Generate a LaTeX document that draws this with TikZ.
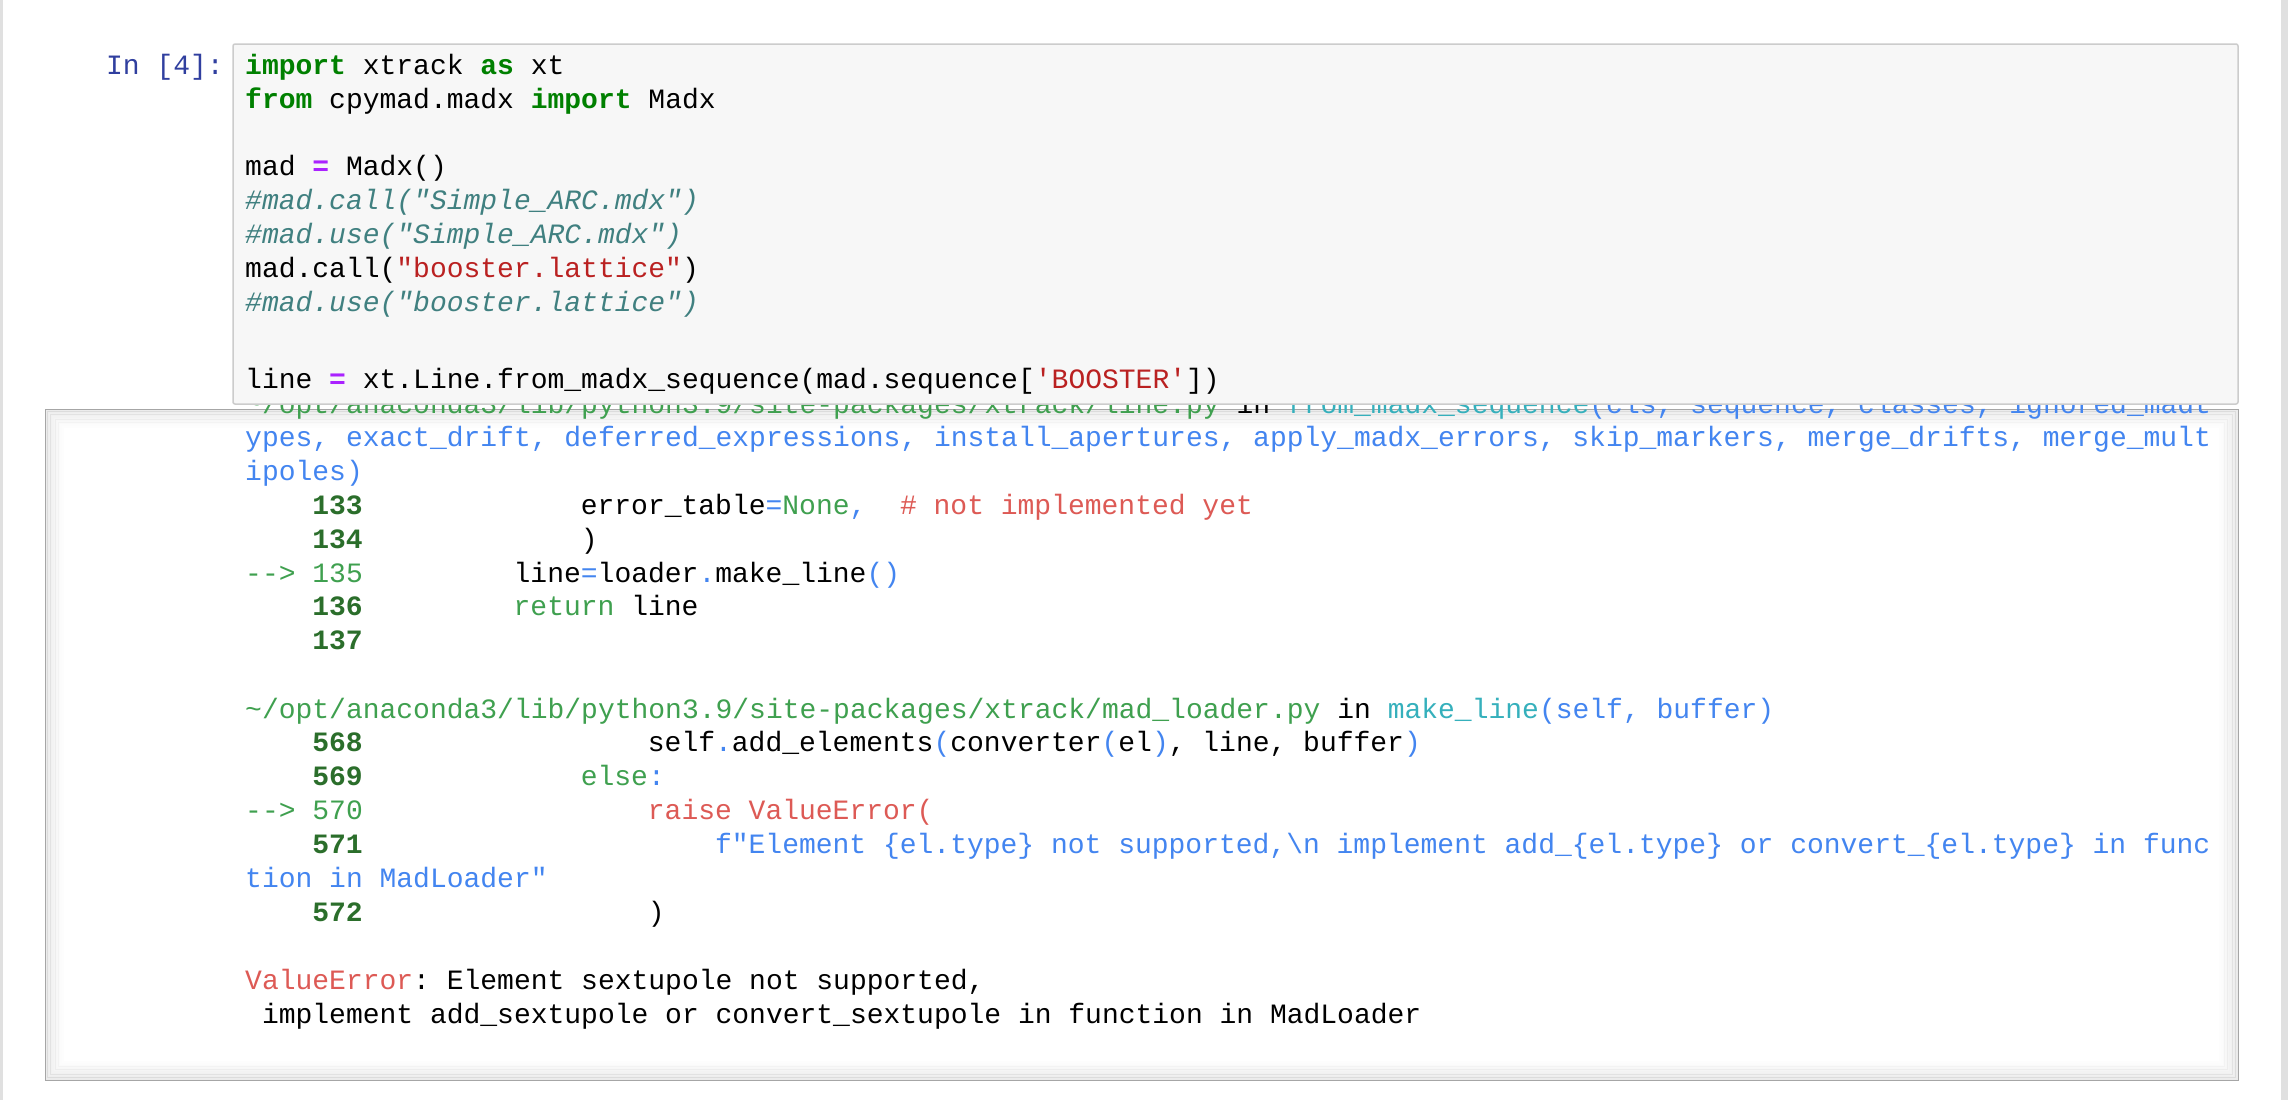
\documentclass[tikz,border=0pt]{standalone}
\usepackage{fontspec}
\setmonofont{Liberation Mono}
\usetikzlibrary{calc}
\definecolor{kw}{HTML}{008000}
\definecolor{op}{HTML}{AA22FF}
\definecolor{cm}{HTML}{408080}
\definecolor{st}{HTML}{BA2121}
\definecolor{prompt}{HTML}{303F9F}
\definecolor{ln}{HTML}{2B6E2B}
\definecolor{gr}{HTML}{3FA04F}
\definecolor{cy}{HTML}{35B0BC}
\definecolor{bl}{HTML}{4385F0}
\definecolor{rd}{HTML}{DD5A55}
\newcommand{\K}[1]{\textcolor{kw}{\bfseries #1}}
\newcommand{\Op}[1]{\textcolor{op}{\bfseries #1}}
\newcommand{\Cm}[1]{\textcolor{cm}{\itshape #1}}
\newcommand{\St}[1]{\textcolor{st}{#1}}
\newcommand{\LN}[1]{\textcolor{ln}{\bfseries #1}}
\newcommand{\G}[1]{\textcolor{gr}{#1}}
\newcommand{\Cy}[1]{\textcolor{cy}{#1}}
\newcommand{\B}[1]{\textcolor{bl}{#1}}
\newcommand{\R}[1]{\textcolor{rd}{#1}}
\begin{document}
\begin{tikzpicture}[x=1pt,y=-1pt,
  txt/.style={anchor=west,inner sep=0pt,font=\ttfamily\fontsize{28}{34}\selectfont,text height=20pt,text depth=6pt}]
\useasboundingbox (0,0) rectangle (2288,1100);
\fill[white] (0,0) rectangle (2288,1100);
\fill[black!12] (0,0) rectangle (3,1100);
\fill[black!12] (2281,0) rectangle (2288,1100);
\def\cw{16.78}
\def\xo{245}
% output box with inner shadow
\fill[white] (45,409) rectangle (2238,1080);
\begin{scope}
\clip (45,409) rectangle (2238,1080);
\foreach \i in {0,...,11}{
  \draw[black,opacity={0.08*(12-\i)/12},line width=2pt] ($(45,409)+(\i*1.6,\i*1.6)$) rectangle ($(2238,1080)-(\i*1.6,\i*1.6)$);
}
\end{scope}
\draw[black!35,line width=1pt] (45,409) rectangle (2238,1080);
% output lines
\node[txt] (o0) at (\xo,406) {\G{\~{}/opt/anaconda3/lib/python3.9/site-packages/xtrack/line.py} in \Cy{from\_madx\_sequence}\B{(cls, sequence, classes, ignored\_madt}};
\node[txt] (o1) at (\xo,439) {\B{ypes, exact\_drift, deferred\_expressions, install\_apertures, apply\_madx\_errors, skip\_markers, merge\_drifts, merge\_mult}};
\node[txt] (o2) at (\xo,473) {\B{ipoles)}};
\node[txt] (o3) at ({\xo+4*\cw},507) {\LN{133}};
\node[txt] (o3b) at ({\xo+20*\cw},507) {error\_table\B{=}\G{None}\B{,}\ \ \R{\# not implemented yet}};
\node[txt] (o4) at ({\xo+4*\cw},541) {\LN{134}};
\node[txt] (o4b) at ({\xo+20*\cw},541) {)};
\node[txt] (o5) at (\xo,575) {\G{--> 135}};
\node[txt] (o5b) at ({\xo+16*\cw},575) {line\B{=}loader\B{.}make\_line\B{()}};
\node[txt] (o6) at ({\xo+4*\cw},608) {\LN{136}};
\node[txt] (o6b) at ({\xo+16*\cw},608) {\G{return} line};
\node[txt] (o7) at ({\xo+4*\cw},642) {\LN{137}};
\node[txt] (o8) at (\xo,711) {\G{\~{}/opt/anaconda3/lib/python3.9/site-packages/xtrack/mad\_loader.py} in \Cy{make\_line}\B{(self, buffer)}};
\node[txt] (o9) at ({\xo+4*\cw},744) {\LN{568}};
\node[txt] (o9b) at ({\xo+24*\cw},744) {self\B{.}add\_elements\B{(}converter\B{(}el\B{)}, line, buffer\B{)}};
\node[txt] (o10) at ({\xo+4*\cw},778) {\LN{569}};
\node[txt] (o10b) at ({\xo+20*\cw},778) {\G{else}\B{:}};
\node[txt] (o11) at (\xo,812) {\G{--> 570}};
\node[txt] (o11b) at ({\xo+24*\cw},812) {\R{raise ValueError(}};
\node[txt] (o12) at ({\xo+4*\cw},846) {\LN{571}};
\node[txt] (o12b) at ({\xo+28*\cw},846) {\B{f"Element \{el.type\} not supported,\textbackslash n implement add\_\{el.type\} or convert\_\{el.type\} in func}};
\node[txt] (o13) at (\xo,880) {\B{tion in MadLoader"}};
\node[txt] (o14) at ({\xo+4*\cw},914) {\LN{572}};
\node[txt] (o14b) at ({\xo+24*\cw},914) {)};
\node[txt] (o15) at (\xo,982) {\R{ValueError}: Element sextupole not supported,};
\node[txt] (o16) at (\xo,1016) {\ implement add\_sextupole or convert\_sextupole in function in MadLoader};
% input box
\draw[fill={rgb,255:red,247;green,247;blue,247},draw=black!20,line width=1.5pt,rounded corners=2pt] (233,44) rectangle (2238,404);
\node[txt,anchor=east,text=prompt] (pr) at (224,67) {In [4]:};
\node[txt] (c1) at (\xo,67) {\K{import} xtrack \K{as} xt};
\node[txt] (c2) at (\xo,101) {\K{from} cpymad.madx \K{import} Madx};
\node[txt] (c3) at (\xo,168) {mad \Op{=} Madx()};
\node[txt] (c4) at (\xo,202) {\Cm{\#mad.call("Simple\_ARC.mdx")}};
\node[txt] (c5) at (\xo,236) {\Cm{\#mad.use("Simple\_ARC.mdx")}};
\node[txt] (c6) at (\xo,270) {mad.call(\St{"booster.lattice"})};
\node[txt] (c7) at (\xo,304) {\Cm{\#mad.use("booster.lattice")}};
\node[txt] (c8) at (\xo,381) {line \Op{=} xt.Line.from\_madx\_sequence(mad.sequence[\St{'BOOSTER'}])};
\end{tikzpicture}
\end{document}
